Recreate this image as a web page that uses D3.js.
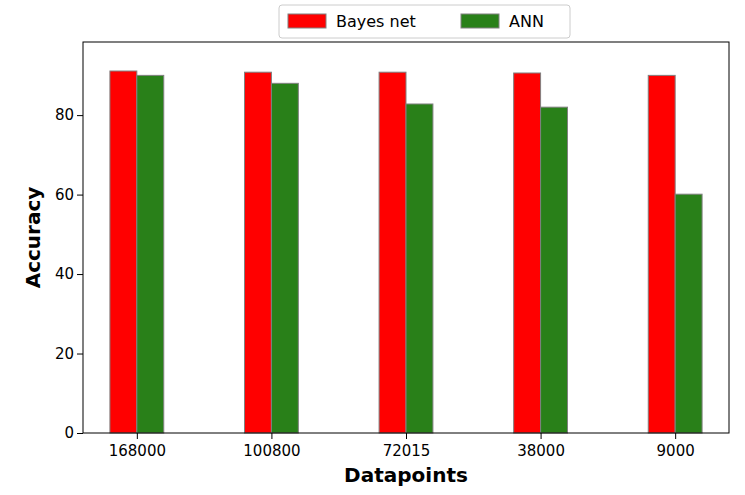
<!DOCTYPE html>
<html><head><meta charset="utf-8">
<script src="https://cdn.jsdelivr.net/npm/d3@7"></script>
<style>body{margin:0;background:#fff}text{font-family:"DejaVu Sans",sans-serif}</style>
</head><body>
<svg id="viz" width="745" height="495"></svg>
<script>
var categories = ["168000","100800","72015","38000","9000"];
var bayes = [91.1, 90.8, 90.8, 90.6, 90.0];
var ann = [90.0, 88.0, 82.8, 82.0, 60.1];
var yTicks = [0,20,40,60,80];

function drawChart(){
var svg = d3.select("#viz");
var mLeft=83, mRight=729, mTop=42, mBottom=433;
var x = d3.scaleLinear().domain([-0.4,4.4]).range([mLeft,mRight]);
var y = d3.scaleLinear().domain([0,98.4]).range([mBottom,mTop]);
var bw = x(0.2)-x(0);

// bars
svg.selectAll("rect.b").data(bayes).enter().append("rect")
    .attr("x",function(d,i){return x(i)-bw}).attr("width",bw)
    .attr("y",function(d){return y(d)}).attr("height",function(d){return y(0)-y(d)})
    .attr("fill","#ff0000").attr("stroke","#808080").attr("stroke-width",1);
svg.selectAll("rect.a").data(ann).enter().append("rect")
    .attr("x",function(d,i){return x(i)}).attr("width",bw)
    .attr("y",function(d){return y(d)}).attr("height",function(d){return y(0)-y(d)})
    .attr("fill","#298019").attr("stroke","#808080").attr("stroke-width",1);

// axes
svg.append("g").attr("transform","translate(0,"+mBottom+")")
    .call(d3.axisBottom(x).tickValues([0,1,2,3,4]).tickFormat(function(d){return categories[d]}).tickSizeOuter(0))
    .call(function(g){g.select(".domain").remove();g.selectAll("text").attr("font-size",15).attr("fill","#000").attr("dy","0.9em");});
svg.append("g").attr("transform","translate("+mLeft+",0)")
    .call(d3.axisLeft(y).tickValues(yTicks).tickSizeOuter(0))
    .call(function(g){g.select(".domain").remove();g.selectAll("text").attr("font-size",15).attr("fill","#000");});
svg.append("rect").attr("x",mLeft).attr("y",mTop).attr("width",mRight-mLeft).attr("height",mBottom-mTop)
    .attr("fill","none").attr("stroke","#000").attr("stroke-width",1);

svg.append("text").attr("x",(mLeft+mRight)/2).attr("y",482).attr("text-anchor","middle")
    .attr("font-size",20).attr("font-weight","bold").text("Datapoints");
svg.append("text").attr("transform","translate(40,"+((mTop+mBottom)/2)+") rotate(-90)")
    .attr("text-anchor","middle").attr("font-size",20).attr("font-weight","bold").text("Accuracy");

// legend
var lg = svg.append("g");
lg.append("rect").attr("x",279).attr("y",5).attr("width",291).attr("height",33).attr("rx",3)
    .attr("fill","#fff").attr("stroke","#ccc");
var items=[{t:"Bayes net",c:"#ff0000",x:288},{t:"ANN",c:"#298019",x:461}];
items.forEach(function(it){
    lg.append("rect").attr("x",it.x).attr("y",14).attr("width",38).attr("height",14)
        .attr("fill",it.c).attr("stroke","#808080");
    lg.append("text").attr("x",it.x+48).attr("y",27).attr("font-size",16).text(it.t);
});
}
drawChart();
</script>
</body></html>
